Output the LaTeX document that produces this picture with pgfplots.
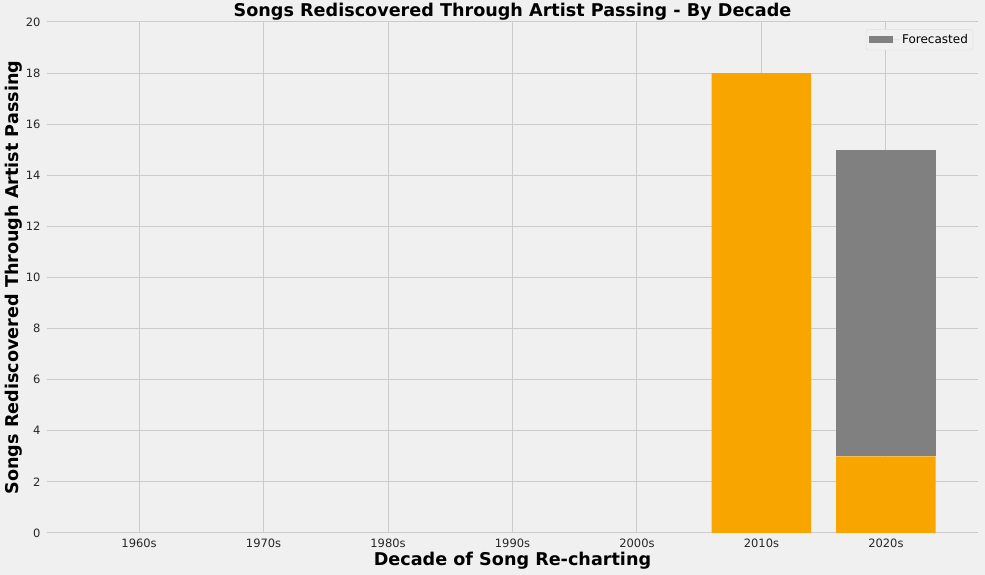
\documentclass[border=0pt]{standalone}
\usepackage{fontspec}
\setmainfont{DejaVu Sans}
\usepackage{pgfplots}
\pgfplotsset{compat=1.18}
\definecolor{bg}{HTML}{F0F0F0}
\definecolor{gridc}{HTML}{CBCBCB}
\definecolor{orng}{HTML}{F8A500}
\definecolor{gry}{HTML}{808080}
\begin{document}
\begin{tikzpicture}[x=1pt,y=1pt]
\fill[bg] (0,0) rectangle (985,575);
\useasboundingbox (0,0) rectangle (985,575);
\begin{axis}[
  at={(47pt,42pt)}, anchor=south west,
  scale only axis, width=931pt, height=511pt,
  xmin=-0.74, xmax=6.74, ymin=0, ymax=20,
  ytick={0,2,...,20},
  xtick={0,...,6},
  xticklabels={1960s,1970s,1980s,1990s,2000s,2010s,2020s},
  axis line style={draw=none},
  major tick length=0pt,
  grid=major,
  grid style={color=gridc, line width=1pt},
  axis background/.style={fill=bg},
  ybar stacked, bar width=0.8,
  ticklabel style={font=\fontsize{11.5}{12}\selectfont, text=black!85},
  xticklabel style={yshift=-2pt},
  yticklabel style={xshift=-3pt},
  /pgf/number format/assume math mode=true,
  title={\bfseries Songs Rediscovered Through Artist Passing - By Decade},
  title style={font=\fontsize{17.6}{19}\selectfont, at={(axis description cs:0.5,1)}, anchor=center, yshift=4pt},
  xlabel={\bfseries Decade of Song Re-charting},
  ylabel={\bfseries Songs Rediscovered Through Artist Passing},
  label style={font=\fontsize{17.6}{19}\selectfont},
  xlabel style={at={(axis description cs:0.5,-0.0548)}, anchor=center},
  ylabel style={at={(axis description cs:-0.0354,0.5)}, anchor=center},
  legend style={at={(0.9947,0.986)}, anchor=north east, fill=bg, draw=black!12,
     rounded corners=2pt, font=\fontsize{12}{13}\selectfont, inner xsep=3pt, inner ysep=3pt},
  legend cell align=left,
  legend image code/.code={\path (0pt,0pt) -- (31pt,0pt);\fill[gry, sharp corners] (0pt,-3.5pt) rectangle (24pt,3.5pt);},
]
\addplot[fill=orng, draw=none, forget plot] coordinates {(5,18) (6,3)};
\addplot[fill=gry, draw=none] coordinates {(5,0) (6,12)};
\addlegendentry{Forecasted}
\end{axis}
\end{tikzpicture}
\end{document}
